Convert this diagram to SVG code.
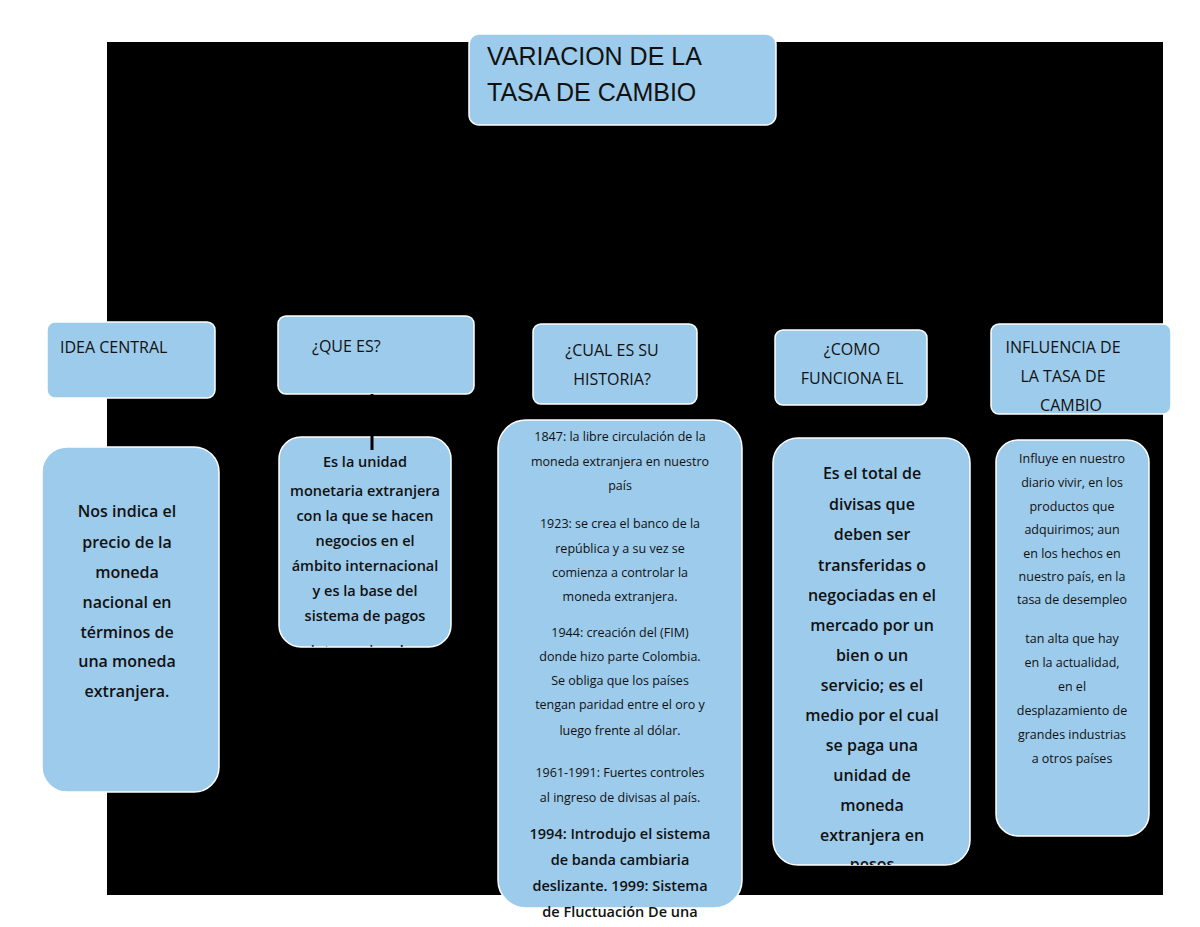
<svg xmlns="http://www.w3.org/2000/svg" width="1200" height="927" viewBox="0 0 1200 927">
<style>
.b{fill:#9dcbeb;stroke:#fff;stroke-width:1.5}
text{font-family:"Open Sans","Liberation Sans",sans-serif;fill:#111}
.h{font-size:16px}
.m{font-size:16px;text-anchor:middle}
.s{font-size:12.5px;text-anchor:middle}
.bd{font-size:14.5px;text-anchor:middle;font-weight:600}
</style>
<defs>
<clipPath id="cB"><rect x="279" y="437" width="172" height="210" rx="22"/></clipPath>
<clipPath id="cD"><rect x="773" y="438" width="197" height="427" rx="25"/></clipPath>
</defs>
<rect width="1200" height="927" fill="#fff"/>
<rect x="107" y="42" width="1056" height="853" fill="#000"/>
<g id="title"><rect class="b" x="469" y="34" width="307" height="91" rx="10"/>
<text x="487" y="65" font-size="25" style="font-family:'Liberation Sans',sans-serif">VARIACION DE LA</text><text x="487" y="101" font-size="25" style="font-family:'Liberation Sans',sans-serif">TASA DE CAMBIO</text></g>
<g id="h1"><rect class="b" x="47" y="322" width="168" height="76" rx="8"/><text class="h" x="60" y="353">IDEA CENTRAL</text></g>
<g id="h2"><rect class="b" x="278" y="316" width="196" height="78" rx="8"/><text class="h" x="312" y="352">¿QUE ES?</text></g>
<g id="h3"><rect class="b" x="533" y="324" width="164" height="80" rx="8"/><text class="m" x="612" y="356">¿CUAL ES SU</text><text class="m" x="612" y="385">HISTORIA?</text></g>
<g id="h4"><rect class="b" x="775" y="330" width="152" height="75" rx="8"/><text class="m" x="852" y="355">¿COMO</text><text class="m" x="852" y="384">FUNCIONA EL</text></g>
<g id="h5"><rect class="b" x="991" y="324" width="180" height="90" rx="8"/><text class="m" x="1063" y="353">INFLUENCIA DE</text><text class="m" x="1063" y="382">LA TASA DE</text><text class="m" x="1071" y="411">CAMBIO</text></g>
<g id="nA"><rect class="b" x="42" y="447" width="177" height="345" rx="25"/>
<g font-weight="600"><text class="m" x="127" y="517">Nos indica el</text><text class="m" x="127" y="548">precio de la</text><text class="m" x="127" y="578">moneda</text><text class="m" x="127" y="608">nacional en</text><text class="m" x="127" y="638">términos de</text><text class="m" x="127" y="667">una moneda</text><text class="m" x="127" y="697">extranjera.</text></g></g>
<g id="nB"><rect class="b" x="279" y="437" width="172" height="210" rx="22"/>
<g clip-path="url(#cB)" font-weight="600"><text class="bd" x="365" y="467">Es la unidad</text><text class="bd" x="365" y="496">monetaria extranjera</text><text class="bd" x="365" y="521">con la que se hacen</text><text class="bd" x="365" y="546">negocios en el</text><text class="bd" x="365" y="571">ámbito internacional</text><text class="bd" x="365" y="596">y es la base del</text><text class="bd" x="365" y="621">sistema de pagos</text><text class="bd" x="365" y="656">internacionales</text></g></g>
<g id="nC"><rect class="b" x="498" y="420" width="244" height="488" rx="28"/>
<text class="s" x="620" y="441">1847: la libre circulación de la</text><text class="s" x="620" y="466">moneda extranjera en nuestro</text><text class="s" x="620" y="490">país</text>
<text class="s" x="620" y="528">1923: se crea el banco de la</text><text class="s" x="620" y="553">república y a su vez se</text><text class="s" x="620" y="577">comienza a controlar la</text><text class="s" x="620" y="601">moneda extranjera.</text>
<text class="s" x="620" y="637">1944: creación del (FIM)</text><text class="s" x="620" y="661">donde hizo parte Colombia.</text><text class="s" x="620" y="685">Se obliga que los países</text><text class="s" x="620" y="709">tengan paridad entre el oro y</text><text class="s" x="620" y="735">luego frente al dólar.</text>
<text class="s" x="620" y="777">1961-1991: Fuertes controles</text><text class="s" x="620" y="802">al ingreso de divisas al país.</text>
<text class="bd" x="620" y="839">1994: Introdujo el sistema</text><text class="bd" x="620" y="865">de banda cambiaria</text><text class="bd" x="620" y="891">deslizante.  1999: Sistema</text><text class="bd" x="620" y="917">de Fluctuación De una</text></g>
<g id="nD"><rect class="b" x="773" y="438" width="197" height="427" rx="25"/>
<g clip-path="url(#cD)" font-weight="600"><text class="m" x="872" y="479">Es el total de</text><text class="m" x="872" y="510">divisas que</text><text class="m" x="872" y="540">deben ser</text><text class="m" x="872" y="571">transferidas o</text><text class="m" x="872" y="601">negociadas en el</text><text class="m" x="872" y="631">mercado por un</text><text class="m" x="872" y="661">bien o un</text><text class="m" x="872" y="691">servicio;  es el</text><text class="m" x="872" y="721">medio por el cual</text><text class="m" x="872" y="751">se paga una</text><text class="m" x="872" y="781">unidad de</text><text class="m" x="872" y="811">moneda</text><text class="m" x="872" y="841">extranjera en</text><text class="m" x="872" y="870">pesos</text></g></g>
<g id="nE"><rect class="b" x="996" y="440" width="153" height="396" rx="22"/>
<text class="s" x="1072" y="463">Influye en nuestro</text><text class="s" x="1072" y="487">diario vivir, en los</text><text class="s" x="1072" y="511">productos que</text><text class="s" x="1072" y="534">adquirimos;  aun</text><text class="s" x="1072" y="558">en los hechos en</text><text class="s" x="1072" y="581">nuestro país, en la</text><text class="s" x="1072" y="604">tasa de desempleo</text>
<text class="s" x="1072" y="643">tan alta que hay</text><text class="s" x="1072" y="667">en la actualidad,</text><text class="s" x="1072" y="691">en el</text><text class="s" x="1072" y="715">desplazamiento de</text><text class="s" x="1072" y="739">grandes industrias</text><text class="s" x="1072" y="763">a otros países</text></g>
<g id="connectors"><line x1="372" y1="394" x2="372" y2="450" stroke="#000" stroke-width="3"/></g>
</svg>
